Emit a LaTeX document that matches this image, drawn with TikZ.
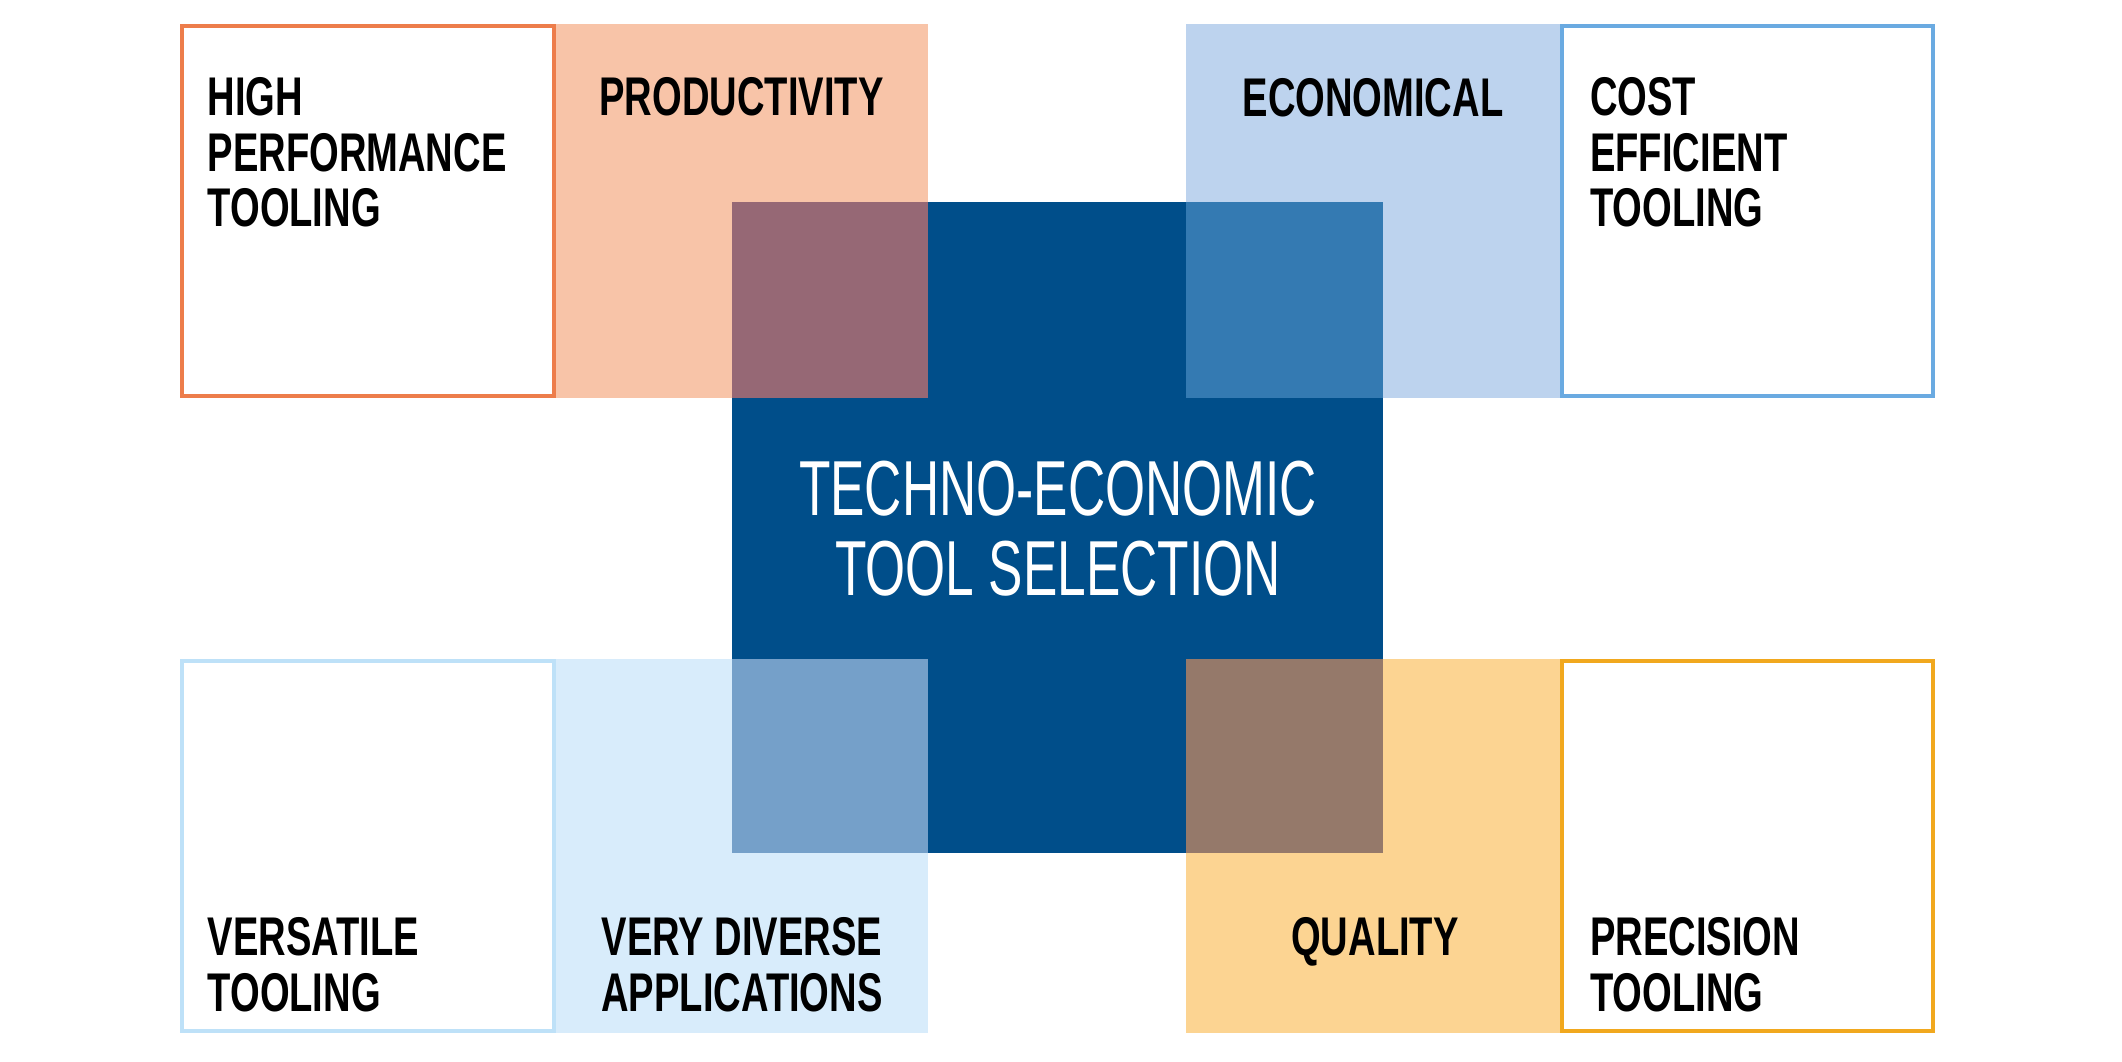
\documentclass[tikz,border=0pt]{standalone}
\usepackage{fontspec}
\setmainfont{Liberation Sans}[FakeStretch=0.70]
\newfontfamily\TitleFont{Liberation Sans}[FakeStretch=0.66]
\usepackage{xcolor}
\definecolor{Col1}{RGB}{237,125,75}
\definecolor{Col2}{RGB}{248,196,168}
\definecolor{Col3}{RGB}{150,104,117}
\definecolor{Col4}{RGB}{0,78,138}
\definecolor{Col5}{RGB}{189,211,238}
\definecolor{Col6}{RGB}{52,122,178}
\definecolor{Col7}{RGB}{106,170,225}
\definecolor{Col8}{RGB}{216,236,251}
\definecolor{Col9}{RGB}{117,160,201}
\definecolor{Col10}{RGB}{190,225,248}
\definecolor{Col11}{RGB}{252,212,146}
\definecolor{Col12}{RGB}{149,121,106}
\definecolor{Col13}{RGB}{241,168,30}
\usepackage{tikz}
\tikzstyle{Frame}=[line width=4pt]
\tikzstyle{Label}=[inner sep=0pt,align=left,
    font=\fontsize{54.5}{55.5}\selectfont\bfseries]
\tikzstyle{LabelC}=[Label,align=center]
\tikzstyle{Title}=[inner sep=0pt,align=center,text=white,
    font=\TitleFont\fontsize{78}{80}\selectfont]

\begin{document}
\begin{tikzpicture}[x=1pt,y=-1pt]
            \useasboundingbox(0,0)rectangle(2122,1061);
            \fill[Col2](555,24)rectangle(928,398);
            \fill[Col5](1186,24)rectangle(1560,398);
            \fill[Col8](555,659)rectangle(928,1033);
            \fill[Col11](1186,659)rectangle(1560,1033);
            \fill[Col4](732,202)rectangle(1383,853);
            \fill[Col3](732,202)rectangle(928,398);
            \fill[Col6](1186,202)rectangle(1383,398);
            \fill[Col9](732,659)rectangle(928,853);
            \fill[Col12](1186,659)rectangle(1383,853);
            %
            \draw[Frame,Col1](182,26)rectangle(553.5,396);
            \draw[Frame,Col7](1561.5,26)rectangle(1932.5,396);
            \draw[Frame,Col10](182,661)rectangle(553.5,1031);
            \draw[Frame,Col13](1561.5,661)rectangle(1932.5,1031);
            %
            \node[Label,anchor=base west](hpt)at(207.5,226.5)
                {HIGH\\PERFORMANCE\\TOOLING};
            \node[LabelC,anchor=base](prod)at(741.5,115)
                {PRODUCTIVITY};
            \node[LabelC,anchor=base](econ)at(1373,116)
                {ECONOMICAL};
            \node[Label,anchor=base west](cet)at(1590,226.5)
                {COST\\EFFICIENT\\TOOLING};
            \node[Label,anchor=base west](vt)at(207.5,1011)
                {VERSATILE\\TOOLING};
            \node[LabelC,anchor=base](vda)at(742,1011)
                {VERY DIVERSE\\APPLICATIONS};
            \node[LabelC,anchor=base](qual)at(1375,955)
                {QUALITY};
            \node[Label,anchor=base west](pt)at(1590,1011)
                {PRECISION\\TOOLING};
            %
            \node[Title,anchor=base](tets)at(1058,595)
                {TECHNO-ECONOMIC\\TOOL SELECTION};
        \end{tikzpicture}
\end{document}
